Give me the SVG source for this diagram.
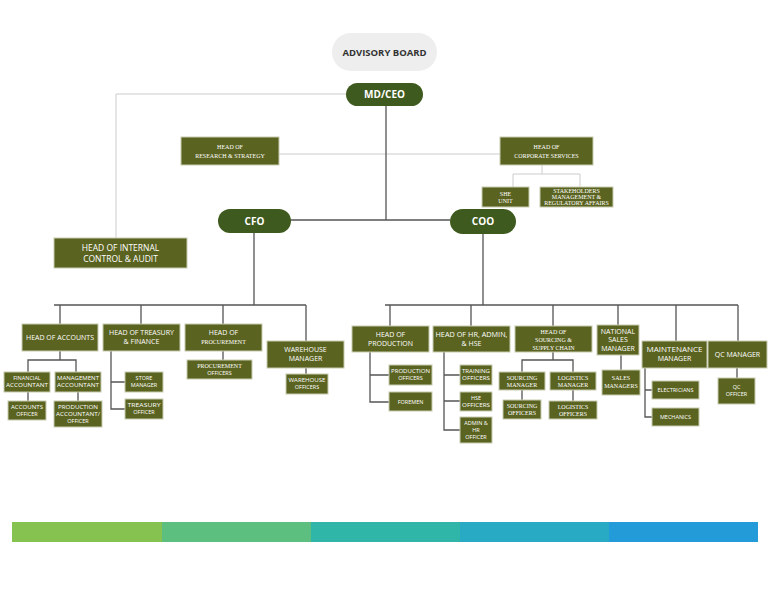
<svg xmlns="http://www.w3.org/2000/svg" width="768" height="594" viewBox="0 0 768 594">
<style>
.b{fill:#5a6320;stroke:#c8ccb0;stroke-width:1}
.t{fill:#fff;font-family:"Open Sans","Liberation Sans",sans-serif;font-size:7px;text-anchor:middle}
.u{fill:#fff;font-family:"Open Sans","Liberation Sans",sans-serif;font-size:5.5px;text-anchor:middle}
.s{fill:#fff;font-family:"Liberation Serif",serif;font-size:6px;text-anchor:middle}
.L{fill:#fff;font-family:"Open Sans","Liberation Sans",sans-serif;font-size:8.5px;text-anchor:middle}
.p{fill:#3f5a1e}
.pt{fill:#fff;font-family:"Open Sans","Liberation Sans",sans-serif;font-size:10px;font-weight:bold;text-anchor:middle}
.c{fill:none;stroke:#555;stroke-width:1.3}
.g{fill:none;stroke:#ccc;stroke-width:1}
</style>
<rect width="768" height="594" fill="#fff"/>
<g id="connectors">
<path class="g" d="M346 94H116V238M279 154H500M542 165V174M513 187V174H580V187"/>
<path class="c" d="M386 106V220M291 220H450M254 233V305M54 305H306M60 305V324M141 305V324M223 305V324M306 305V341"/>
<path class="c" d="M483 234V305M385 305H738M390 305V326M471 305V326M553 305V326M618 305V325M676 305V341M738 305V341"/>
<path class="c" d="M60 351V360M28 372V360H76V372M28 392V401M78 392V401M111 351V409H125M111 382H125M223 351V360M306 368V374"/>
<path class="c" d="M370 352V402H389M370 375H389M444 352V430H460M444 375H460M444 401H460M553 352V360M522 372V360H573V372M522 390V400M573 390V401M621 355V370M645 368V417H652M645 390H652M737 368V378"/>
</g>
<g id="advisory"><rect x="332" y="33" width="105" height="38" rx="19" fill="#eeeeee"/><text x="384.5" y="56" font-family="'Open Sans','Liberation Sans',sans-serif" font-size="9.5" font-weight="bold" text-anchor="middle" fill="#333">ADVISORY BOARD</text></g>
<g id="mdceo"><rect class="p" x="346" y="83" width="77" height="23" rx="11.5"/><text class="pt" x="384.5" y="98">MD/CEO</text></g>
<g id="cfo"><rect class="p" x="218" y="209" width="73" height="24" rx="12"/><text class="pt" x="254.5" y="225">CFO</text></g>
<g id="coo"><rect class="p" x="450" y="209" width="66" height="25" rx="12.5"/><text class="pt" x="483" y="225">COO</text></g>
<g id="research"><rect class="b" x="181" y="137" width="98" height="28"/><text class="s" x="230" y="149" font-size="8">HEAD OF</text><text class="s" x="230" y="158" font-size="8">RESEARCH &amp; STRATEGY</text></g>
<g id="corporate"><rect class="b" x="500" y="137" width="93" height="28"/><text class="s" x="546.5" y="149" font-size="8">HEAD OF</text><text class="s" x="546.5" y="158" font-size="8">CORPORATE SERVICES</text></g>
<g id="she"><rect class="b" x="482" y="187" width="47" height="20"/><text class="s" x="505.5" y="196">SHE</text><text class="s" x="505.5" y="203">UNIT</text></g>
<g id="stake"><rect class="b" x="540" y="187" width="73" height="20"/><text class="s" x="576.5" y="193">STAKEHOLDERS</text><text class="s" x="576.5" y="199">MANAGEMENT &amp;</text><text class="s" x="576.5" y="205">REGULATORY AFFAIRS</text></g>
<g id="internal"><rect class="b" x="54" y="238" width="133" height="30"/><text class="L" x="120.5" y="251">HEAD OF INTERNAL</text><text class="L" x="120.5" y="262">CONTROL &amp; AUDIT</text></g>
<g id="accounts"><rect class="b" x="22" y="324" width="76" height="27"/><text class="t" x="60" y="340">HEAD OF ACCOUNTS</text></g>
<g id="treasury"><rect class="b" x="103" y="324" width="77" height="27"/><text class="t" x="141.5" y="335">HEAD OF TREASURY</text><text class="t" x="141.5" y="344">&amp; FINANCE</text></g>
<g id="procurement"><rect class="b" x="185" y="324" width="77" height="27"/><text class="t" x="223.5" y="335">HEAD OF</text><text class="s" x="223.5" y="344" font-size="7.5">PROCUREMENT</text></g>
<g id="warehouse"><rect class="b" x="267" y="341" width="77" height="27"/><text class="t" x="305.5" y="352">WAREHOUSE</text><text class="t" x="305.5" y="361">MANAGER</text></g>
<g id="finacc"><rect class="b" x="4" y="372" width="46" height="20"/><text class="u" x="27" y="380">FINANCIAL</text><text class="u" x="27" y="387" textLength="42" lengthAdjust="spacingAndGlyphs">ACCOUNTANT</text></g>
<g id="mgmtacc"><rect class="b" x="55" y="372" width="46" height="20"/><text class="u" x="78" y="380" textLength="42" lengthAdjust="spacingAndGlyphs">MANAGEMENT</text><text class="u" x="78" y="387" textLength="42" lengthAdjust="spacingAndGlyphs">ACCOUNTANT</text></g>
<g id="accoff"><rect class="b" x="8" y="401" width="38" height="19"/><text class="u" x="27" y="409" textLength="32" lengthAdjust="spacingAndGlyphs">ACCOUNTS</text><text class="u" x="27" y="416">OFFICER</text></g>
<g id="prodacc"><rect class="b" x="54" y="401" width="48" height="26"/><text class="u" x="78" y="409" textLength="40" lengthAdjust="spacingAndGlyphs">PRODUCTION</text><text class="u" x="78" y="416" textLength="44" lengthAdjust="spacingAndGlyphs">ACCOUNTANT/</text><text class="u" x="78" y="423">OFFICER</text></g>
<g id="store"><rect class="b" x="125" y="372" width="38" height="20"/><text class="u" x="144" y="380">STORE</text><text class="u" x="144" y="387">MANAGER</text></g>
<g id="treasoff"><rect class="b" x="125" y="399" width="38" height="20"/><text class="u" x="144" y="407" textLength="33" lengthAdjust="spacingAndGlyphs">TREASURY</text><text class="u" x="144" y="414">OFFICER</text></g>
<g id="procoff"><rect class="b" x="187" y="360" width="65" height="19"/><text class="s" x="219.5" y="368">PROCUREMENT</text><text class="u" x="219.5" y="375">OFFICERS</text></g>
<g id="whoff"><rect class="b" x="286" y="374" width="42" height="20"/><text class="u" x="307" y="382" textLength="37" lengthAdjust="spacingAndGlyphs">WAREHOUSE</text><text class="u" x="307" y="389">OFFICERS</text></g>
<g id="production"><rect class="b" x="352" y="326" width="77" height="26"/><text class="t" x="390.5" y="337">HEAD OF</text><text class="t" x="390.5" y="346">PRODUCTION</text></g>
<g id="hr"><rect class="b" x="433" y="326" width="77" height="26"/><text class="t" x="471.5" y="337" textLength="72" lengthAdjust="spacingAndGlyphs">HEAD OF HR, ADMIN,</text><text class="t" x="471.5" y="346">&amp; HSE</text></g>
<g id="sourcing"><rect class="b" x="515" y="326" width="77" height="26"/><text class="s" x="553.5" y="334" font-size="7.5">HEAD OF</text><text class="s" x="553.5" y="342" font-size="7.5">SOURCING &amp;</text><text class="s" x="553.5" y="350" font-size="7.5">SUPPLY CHAIN</text></g>
<g id="sales"><rect class="b" x="597" y="325" width="42" height="30"/><text class="t" x="618" y="334">NATIONAL</text><text class="t" x="618" y="342">SALES</text><text class="t" x="618" y="351">MANAGER</text></g>
<g id="maint"><rect class="b" x="642" y="341" width="65" height="27"/><text class="t" x="674.5" y="352" textLength="56" lengthAdjust="spacingAndGlyphs">MAINTENANCE</text><text class="t" x="674.5" y="361">MANAGER</text></g>
<g id="qc"><rect class="b" x="708" y="341" width="59" height="27"/><text class="t" x="737.5" y="357">QC MANAGER</text></g>
<g id="prodoff"><rect class="b" x="389" y="365" width="43" height="20"/><text class="u" x="410.5" y="373" textLength="39" lengthAdjust="spacingAndGlyphs">PRODUCTION</text><text class="u" x="410.5" y="380">OFFICERS</text></g>
<g id="foremen"><rect class="b" x="389" y="392" width="43" height="19"/><text class="u" x="410.5" y="404">FOREMEN</text></g>
<g id="training"><rect class="b" x="460" y="365" width="32" height="20"/><text class="u" x="476" y="373" textLength="28" lengthAdjust="spacingAndGlyphs">TRAINING</text><text class="u" x="476" y="380" textLength="28" lengthAdjust="spacingAndGlyphs">OFFICERS</text></g>
<g id="hseoff"><rect class="b" x="460" y="392" width="32" height="19"/><text class="u" x="476" y="400">HSE</text><text class="u" x="476" y="407" textLength="28" lengthAdjust="spacingAndGlyphs">OFFICERS</text></g>
<g id="adminhr"><rect class="b" x="460" y="417" width="32" height="26"/><text class="u" x="476" y="425">ADMIN &amp;</text><text class="u" x="476" y="432">HR</text><text class="u" x="476" y="439">OFFICER</text></g>
<g id="sourcmgr"><rect class="b" x="499" y="372" width="46" height="18"/><text class="s" x="522" y="380">SOURCING</text><text class="s" x="522" y="387">MANAGER</text></g>
<g id="logmgr"><rect class="b" x="550" y="372" width="46" height="18"/><text class="s" x="573" y="380">LOGISTICS</text><text class="s" x="573" y="387">MANAGER</text></g>
<g id="sourcoff"><rect class="b" x="503" y="400" width="38" height="19"/><text class="s" x="522" y="408">SOURCING</text><text class="s" x="522" y="415">OFFICERS</text></g>
<g id="logoff"><rect class="b" x="549" y="401" width="48" height="18"/><text class="s" x="573" y="409">LOGISTICS</text><text class="s" x="573" y="416">OFFICERS</text></g>
<g id="salesmgr"><rect class="b" x="602" y="370" width="38" height="25"/><text class="s" x="621" y="380">SALES</text><text class="s" x="621" y="388">MANAGERS</text></g>
<g id="elec"><rect class="b" x="652" y="381" width="47" height="18"/><text class="u" x="675.5" y="392">ELECTRICIANS</text></g>
<g id="mech"><rect class="b" x="652" y="408" width="47" height="18"/><text class="u" x="675.5" y="419">MECHANICS</text></g>
<g id="qcoff"><rect class="b" x="718" y="378" width="37" height="26"/><text class="u" x="736.5" y="389">QC</text><text class="u" x="736.5" y="396">OFFICER</text></g>
<g id="bar">
<rect x="12" y="522" width="150" height="20" fill="#86c24f"/>
<rect x="162" y="522" width="149" height="20" fill="#5cbf80"/>
<rect x="311" y="522" width="149" height="20" fill="#30b6a8"/>
<rect x="460" y="522" width="149" height="20" fill="#28a9c4"/>
<rect x="609" y="522" width="149" height="20" fill="#239bd8"/>
</g>
</svg>
